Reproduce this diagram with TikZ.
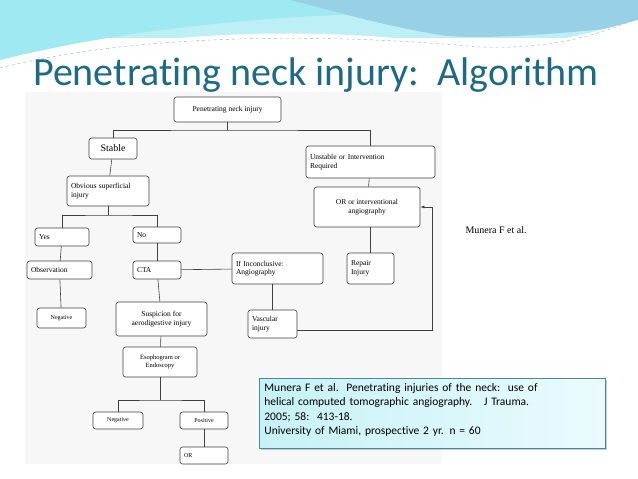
\documentclass[tikz,border=0pt]{standalone}
\usepackage{fontspec}
\setmainfont{Liberation Serif}
\newfontfamily\titlefont{Carlito}[Ligatures=NoCommon]
\usetikzlibrary{arrows.meta,shadows}
\definecolor{teal1}{HTML}{1D6A85}
\definecolor{cyanA}{HTML}{9FE9F2}
\definecolor{cyanB}{HTML}{7FC6E0}
\tikzset{
  bx/.style={draw=black!75,rounded corners=2.5pt,line width=0.6pt,fill=white,inner sep=0pt,font=\fontsize{7.5}{8.5}\selectfont,align=left},
  ln/.style={draw=black!75,line width=0.6pt}
}
\begin{document}
\begin{tikzpicture}[x=1pt,y=-1pt]
\useasboundingbox (0,0) rectangle (638,479);
\fill[white] (0,0) rectangle (638,479);
% header waves
\fill[cyanA!70] (0,0) rectangle (638,38);
\fill[cyanA] (0,0) -- (638,0) -- (638,20) .. controls (450,5) and (200,10) .. (0,60) -- cycle;
\fill[cyanB!80] (290,0) -- (638,0) -- (638,25) .. controls (560,35) and (470,40) .. (440,35) .. controls (380,25) and (330,10) .. (290,0) -- cycle;
\fill[white] (0,70) .. controls (150,25) and (350,28) .. (450,45) .. controls (520,55) and (600,30) .. (638,20) -- (638,479) -- (0,479) -- cycle;
\draw[teal1!50,dashed,line width=0.4pt] (0,68) .. controls (150,30) and (350,35) .. (480,47) .. controls (560,50) and (610,30) .. (638,18);
\node[anchor=base west,inner sep=0,text=teal1,font=\titlefont\fontsize{40}{42}\selectfont] (title) at (33,85) {Penetrating neck injury:\ \ Algorithm};
% diagram background
\fill[black!3] (25,92) rectangle (442,464);
% nodes
\node[bx,minimum width=107pt,minimum height=25pt,align=center] (pni) at (227.5,109.5) {Penetrating neck injury};
\node[bx,minimum width=48pt,minimum height=21pt,font=\fontsize{10}{11}\selectfont] (stable) at (113,148.5) {Stable};
\node[bx,minimum width=129pt,minimum height=32pt,text width=121pt] (unst) at (370.5,162) {Unstable or Intervention\\Required};
\node[bx,minimum width=82pt,minimum height=30pt,text width=74pt] (obv) at (108,191) {Obvious superficial\\injury};
\node[bx,minimum width=106pt,minimum height=40pt,align=center] (orint) at (367,207) {OR or interventional\\angiography};
\node[bx,minimum width=54pt,minimum height=18pt,text width=46pt] (yes) at (62,237) {Yes};
\node[bx,minimum width=48pt,minimum height=16pt,text width=40pt] (no) at (157,235) {No};
\node[bx,minimum width=65pt,minimum height=18pt,text width=57pt] (obs) at (59.5,270) {Observation};
\node[bx,minimum width=48pt,minimum height=18pt,text width=40pt] (cta) at (157,270) {CTA};
\node[bx,minimum width=91pt,minimum height=31pt,text width=83pt] (inc) at (277.5,268.5) {If Inconclusive:\\Angiography};
\node[bx,minimum width=47pt,minimum height=31pt,text width=39pt] (rep) at (370.5,268.5) {Repair\\Injury};
\node[bx,minimum width=49pt,minimum height=20pt,align=center,font=\fontsize{6}{7}\selectfont] (neg1) at (61.5,318) {Negative};
\node[bx,minimum width=91pt,minimum height=34pt,align=center] (susp) at (161.5,319) {Suspicion for\\aerodigestive injury};
\node[bx,minimum width=49pt,minimum height=28pt,text width=41pt] (vasc) at (272.5,324) {Vascular\\injury};
\node[bx,minimum width=74pt,minimum height=30pt,align=center,font=\fontsize{6.5}{7.5}\selectfont] (eso) at (160,362) {Esophogram or\\Endoscopy};
\node[bx,minimum width=50pt,minimum height=17pt,align=center,font=\fontsize{6}{7}\selectfont] (neg2) at (118,420.5) {Negative};
\node[bx,minimum width=48pt,minimum height=17pt,align=center,font=\fontsize{6}{7}\selectfont] (pos) at (204,420.5) {Positive};
\node[bx,minimum width=48pt,minimum height=17pt,text width=40pt,font=\fontsize{6}{7}\selectfont] (or2) at (204,455.5) {OR};
% connectors
\coordinate (j1) at (227.5,130);
\path[ln] (pni) -- (j1);
\path[ln] (stable.north) |- (j1) -| (unst.north);
\path[ln] (stable) -- (obv);
\coordinate (j2) at (108,215);
\path[ln] (obv) -- (j2);
\path[ln] (yes.north) |- (j2) -| (no.north);
\path[ln] (yes) -- (obs);
\path[ln] (obs) -- (neg1);
\path[ln] (no) -- (cta);
\path[ln] (cta) -- (inc);
\path[ln] (cta) -- (susp);
\path[ln] (inc.south -| vasc) -- (vasc);
\path[ln] (unst) -- (orint);
\path[ln] (orint.south -| rep) -- (rep);
\coordinate (j3) at (432,330);
\path[ln,-{Latex[length=4pt,width=3pt]}] (vasc.east |- j3) -- (j3) |- (orint.east);
\path[ln] (susp) -- (eso);
\coordinate (j4) at (160,400);
\path[ln] (eso) -- (j4);
\path[ln] (neg2.north) |- (j4) -| (pos.north);
\path[ln] (pos) -- (or2);
% texts
\node[anchor=west,font=\fontsize{10}{12}\selectfont] (mun) at (462,230) {Munera F et al.};
\node[draw=teal1!80,line width=0.8pt,left color=cyanA!60,right color=cyanA!20,drop shadow={opacity=0.4,shadow xshift=1.5pt,shadow yshift=-1.5pt},
  anchor=north west,minimum width=346pt,text width=336pt,align=left,inner sep=5pt,
  font=\titlefont\fontsize{11.5}{14.5}\selectfont] (cit) at (259,378)
  {Munera F et al.\ \ Penetrating injuries of the neck:\ \ use of\\helical computed tomographic angiography.\ \ \ J Trauma.\\2005; 58:\ \ 413-18.\\University of Miami, prospective 2 yr. n = 60\\[-6pt]\mbox{}};
\end{tikzpicture}
\end{document}
